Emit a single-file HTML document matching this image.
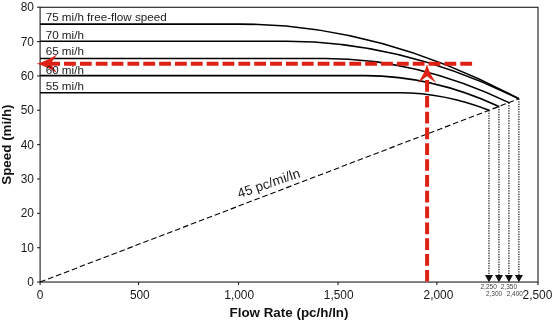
<!DOCTYPE html>
<html><head><meta charset="utf-8"><title>Speed-flow curves</title>
<style>
html,body{margin:0;padding:0;background:#fff;}
body{width:553px;height:320px;overflow:hidden;}
svg{display:block;}
text{font-family:"Liberation Sans",Arial,Helvetica,sans-serif;fill:#1a1a1a;}
</style></head><body>
<svg width="553" height="320" viewBox="0 0 553 320">
<rect x="0" y="0" width="553" height="320" fill="#fff"/>
<!-- frame -->
<rect x="40.1" y="7.3" width="497.9" height="274.75" fill="none" stroke="#262626" stroke-width="1.15"/>
<g stroke="#262626" stroke-width="1.15">
<line x1="37.1" y1="282.05" x2="40.1" y2="282.05"/><line x1="37.1" y1="247.69" x2="40.1" y2="247.69"/><line x1="37.1" y1="213.34" x2="40.1" y2="213.34"/><line x1="37.1" y1="178.98" x2="40.1" y2="178.98"/><line x1="37.1" y1="144.63" x2="40.1" y2="144.63"/><line x1="37.1" y1="110.27" x2="40.1" y2="110.27"/><line x1="37.1" y1="75.91" x2="40.1" y2="75.91"/><line x1="37.1" y1="41.56" x2="40.1" y2="41.56"/><line x1="37.1" y1="7.20" x2="40.1" y2="7.20"/>
<line x1="40.1" y1="282" x2="40.1" y2="285"/>
<line x1="138.5" y1="282" x2="138.5" y2="285"/><line x1="238.5" y1="282" x2="238.5" y2="285"/><line x1="338.0" y1="282" x2="338.0" y2="285"/><line x1="436.9" y1="282" x2="436.9" y2="285"/><line x1="538.0" y1="282" x2="538.0" y2="285"/>
</g>
<!-- density line -->
<line x1="40.10" y1="282.05" x2="518.90" y2="98.82" stroke="#000" stroke-width="1.1" stroke-dasharray="5.6 2.9"/>
<!-- dotted -->
<g stroke="#000" stroke-width="1.15" stroke-dasharray="1.3 1.2">
<line x1="488.98" y1="110.27" x2="488.98" y2="276"/><line x1="498.95" y1="106.45" x2="498.95" y2="276"/><line x1="508.93" y1="102.64" x2="508.93" y2="276"/><line x1="518.90" y1="98.82" x2="518.90" y2="276"/>
</g>
<g fill="#111">
<polygon points="484.98,274.9 492.98,274.9 488.98,282.2"/><polygon points="494.95,274.9 502.95,274.9 498.95,282.2"/><polygon points="504.93,274.9 512.93,274.9 508.93,282.2"/><polygon points="514.90,274.9 522.90,274.9 518.90,282.2"/>
</g>
<!-- curves -->
<g fill="none" stroke="#000" stroke-width="1.6">
<path d="M40.10,24.08 L239.60,24.08 Q379.25,24.08 518.90,98.82"/><path d="M40.10,41.26 L286.48,41.26 Q402.69,41.26 518.90,98.82"/><path d="M40.10,58.44 L325.39,58.44 Q417.16,58.44 508.93,102.64"/><path d="M40.10,75.61 L365.29,75.61 Q432.12,75.61 498.95,106.45"/><path d="M40.10,92.79 L399.20,92.79 Q444.09,92.79 488.98,110.27"/>
</g>
<!-- red arrows -->
<g stroke="#dd2114" stroke-width="4" fill="none">
<line x1="472.1" y1="63.7" x2="49" y2="63.7" stroke-dasharray="11.8 4.05"/>
<line x1="427.1" y1="281.6" x2="427.1" y2="76" stroke-dasharray="11.7 4.12"/>
</g>
<g fill="#dd2114">
<path d="M36.8,63.8 Q46,61.4 57.0,54.6 L50.6,63.8 L57.0,73.0 Q46,66.2 36.8,63.8 Z"/>
<path d="M427.0,64.3 Q429.4,73.5 436.2,83.1 L427.0,76.3 L417.8,83.1 Q424.6,73.5 427.0,64.3 Z"/>
</g>
<!-- labels in plot -->
<g font-size="11.65">
<text x="45.7" y="21.1">75 mi/h free-flow speed</text>
<text x="45.7" y="38.8">70 mi/h</text>
<text x="45.7" y="55.4">65 mi/h</text>
<text x="45.7" y="74.4">60 mi/h</text>
<text x="45.7" y="89.6">55 mi/h</text>
</g>
<text font-size="13.5" transform="translate(239.3,198.2) rotate(-19)">45 pc/mi/ln</text>
<!-- tick labels -->
<g font-size="11.9">
<text x="33.9" y="286.20" text-anchor="end">0</text><text x="33.9" y="251.84" text-anchor="end">10</text><text x="33.9" y="217.49" text-anchor="end">20</text><text x="33.9" y="183.13" text-anchor="end">30</text><text x="33.9" y="148.78" text-anchor="end">40</text><text x="33.9" y="114.42" text-anchor="end">50</text><text x="33.9" y="80.06" text-anchor="end">60</text><text x="33.9" y="45.71" text-anchor="end">70</text><text x="33.9" y="11.35" text-anchor="end">80</text>
<text x="40.0" y="298.7" text-anchor="middle">0</text><text x="139.8" y="298.7" text-anchor="middle">500</text><text x="239.2" y="298.7" text-anchor="middle">1,000</text><text x="338.7" y="298.7" text-anchor="middle">1,500</text><text x="438.4" y="298.7" text-anchor="middle">2,000</text><text x="537.4" y="298.7" text-anchor="middle">2,500</text>
</g>
<g font-size="6.5" fill="#333" text-anchor="middle">
<text x="488.65" y="288.8" style="fill:#444">2,250</text>
<text x="508.9" y="288.8" style="fill:#444">2,350</text>
<text x="494.1" y="295.9" style="fill:#444">2,300</text>
<text x="514.85" y="295.9" style="fill:#444">2,400</text>
</g>
<!-- axis titles -->
<text x="289" y="316.6" font-size="13.4" font-weight="bold" text-anchor="middle" style="fill:#111">Flow Rate (pc/h/ln)</text>
<text font-size="13.4" font-weight="bold" text-anchor="middle" transform="translate(11.3,144.6) rotate(-90)" style="fill:#111">Speed (mi/h)</text>
</svg>
</body></html>
